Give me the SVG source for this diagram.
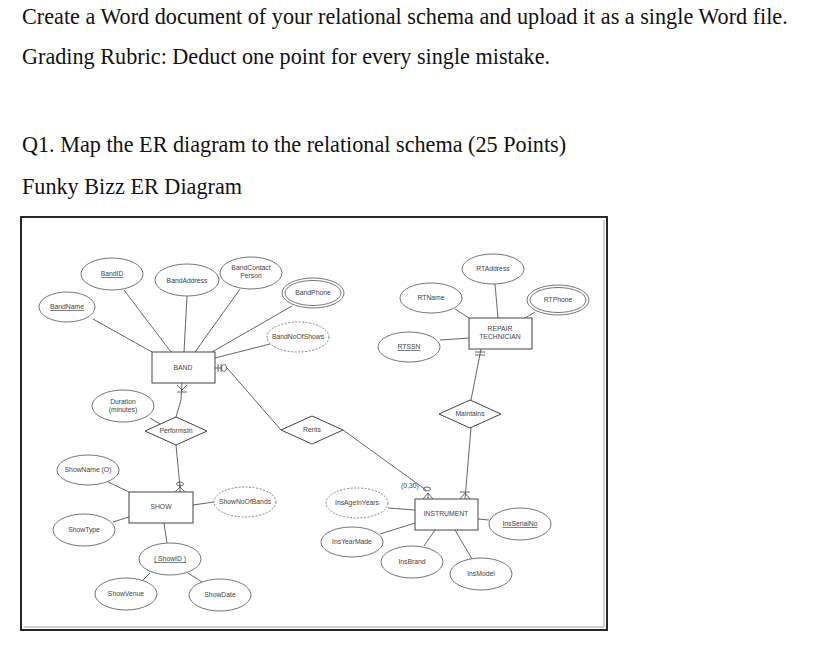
<svg xmlns="http://www.w3.org/2000/svg" width="827" height="648" viewBox="0 0 827 648">
<style>
.h{font-family:"Liberation Serif",serif;font-size:22.2px;fill:#111}
.t{font-family:"Liberation Sans",Arial,sans-serif;font-size:6.8px;fill:#444;text-anchor:middle}
.e{fill:#fff;stroke:#666;stroke-width:0.9}
.d{fill:#fff;stroke:#777;stroke-width:0.9;stroke-dasharray:2,1.5}
.r{fill:#fff;stroke:#444;stroke-width:1}
.l{stroke:#555;stroke-width:0.9;fill:none}
</style>
<rect width="827" height="648" fill="#fff"/>
<text class="h" x="22" y="24">Create a Word document of your relational schema and upload it as a single Word file.</text>
<text class="h" x="22" y="64">Grading Rubric: Deduct one point for every single mistake.</text>
<text class="h" x="22" y="152">Q1. Map the ER diagram to the relational schema (25 Points)</text>
<text class="h" x="22" y="194">Funky Bizz ER Diagram</text>
<rect x="21" y="217" width="586" height="413" fill="none" stroke="#111" stroke-width="1.8"/>
<path d="M24 627 H604 V220" fill="none" stroke="#888" stroke-width="0.8"/>
<g id="connectors" class="l">
<line x1="93" y1="319" x2="152" y2="352"/><line x1="124" y1="290" x2="171" y2="352"/><line x1="187" y1="296" x2="184" y2="352"/><line x1="240" y1="289" x2="195" y2="352"/><line x1="292" y1="306" x2="212" y2="352"/><line x1="270" y1="344" x2="215" y2="358"/>
<line x1="150" y1="418" x2="160" y2="424"/><path d="M176 417 L181 400 L182 383"/>
<path d="M215 368 H221 M227 368 L281 430"/><line x1="218" y1="364" x2="218" y2="372"/><line x1="221" y1="364" x2="221" y2="372"/><ellipse cx="224" cy="368" rx="2.5" ry="3.5"/>
<path d="M177 385 L182 390 L187 385 M177 392 H187"/>
<path d="M176 445 L180 487 M180 492 L180 484 M175 492 L180 487 L185 492"/><ellipse cx="180" cy="484" rx="3.5" ry="2"/>
<line x1="108" y1="482" x2="129" y2="492"/><line x1="113" y1="522" x2="129" y2="517"/><line x1="214" y1="502" x2="193" y2="505"/><line x1="167" y1="543" x2="164" y2="523"/><line x1="150" y1="573" x2="141" y2="582"/><line x1="188" y1="573" x2="205" y2="584"/>
<path d="M343 430 L426 490 M423 499 L428 493 L433 499 M428 493 V499"/><ellipse cx="427" cy="489" rx="3.5" ry="2"/>
<path d="M471 428 L465 499 M460 499 L465 493 L470 499 M460 492 H470"/>
<line x1="388" y1="508" x2="415" y2="510"/><line x1="380" y1="534" x2="415" y2="523"/><line x1="424" y1="546" x2="435" y2="530"/><line x1="472" y1="559" x2="455" y2="530"/><line x1="489" y1="520" x2="478" y2="519"/>
<line x1="455" y1="309" x2="469" y2="318"/><line x1="495" y1="284" x2="498" y2="318"/><line x1="535" y1="312" x2="525" y2="318"/><line x1="440" y1="340" x2="469" y2="338"/>
<path d="M481 349 L471 400 M475 352 H485 M475 355 H485"/>
</g>
<g id="band"><rect class="r" x="152" y="352" width="63" height="31"/><text class="t" x="183" y="370">BAND</text></g>
<g id="bandname"><ellipse class="e" cx="67" cy="307" rx="28" ry="15"/><text class="t" x="67" y="309" text-decoration="underline">BandName</text></g>
<g id="bandid"><ellipse class="e" cx="112" cy="274" rx="31" ry="16"/><text class="t" x="112" y="276" text-decoration="underline">BandID</text></g>
<g id="bandaddress"><ellipse class="e" cx="187" cy="280" rx="32" ry="16"/><text class="t" x="187" y="283">BandAddress</text></g>
<g id="bandcontact"><ellipse class="e" cx="251" cy="273" rx="31" ry="16"/><text class="t" x="251" y="270">BandContact</text><text class="t" x="251" y="278">Person</text></g>
<g id="bandphone"><ellipse class="e" cx="313" cy="293" rx="31" ry="15"/><ellipse class="e" cx="313" cy="293" rx="28" ry="12.5"/><text class="t" x="313" y="295">BandPhone</text></g>
<g id="bandnoofshows"><ellipse class="d" cx="298" cy="337" rx="31" ry="15"/><text class="t" x="298" y="339">BandNoOfShows</text></g>
<g id="duration"><ellipse class="e" cx="123" cy="406" rx="31" ry="16"/><text class="t" x="123" y="404">Duration</text><text class="t" x="123" y="412">(minutes)</text></g>
<g id="performsin"><polygon class="r" points="145,431 176,417 207,431 176,445"/><text class="t" x="176" y="433">PerformsIn</text></g>
<g id="rents"><polygon class="r" points="281,430 312,416 343,430 312,444"/><text class="t" x="312" y="432">Rents</text></g>
<g id="show"><rect class="r" x="129" y="492" width="64" height="31"/><text class="t" x="161" y="509">SHOW</text></g>
<g id="showname"><ellipse class="e" cx="88" cy="470" rx="31" ry="15"/><text class="t" x="88" y="472">ShowName (O)</text></g>
<g id="shownoofbands"><ellipse class="d" cx="245" cy="502" rx="31" ry="15"/><text class="t" x="245" y="504">ShowNoOfBands</text></g>
<g id="showtype"><ellipse class="e" cx="84" cy="530" rx="31" ry="16"/><text class="t" x="84" y="532">ShowType</text></g>
<g id="showid"><ellipse class="e" cx="170" cy="559" rx="31" ry="16"/><text class="t" x="170" y="561" text-decoration="underline">( ShowID )</text></g>
<g id="showvenue"><ellipse class="e" cx="126" cy="594" rx="31" ry="16"/><text class="t" x="126" y="596">ShowVenue</text></g>
<g id="showdate"><ellipse class="e" cx="220" cy="595" rx="31" ry="16"/><text class="t" x="220" y="597">ShowDate</text></g>
<g id="instrument"><rect class="r" x="415" y="499" width="63" height="31"/><text class="t" x="446" y="516">INSTRUMENT</text><text class="t" x="410" y="488">(0,30)</text></g>
<g id="insage"><ellipse class="d" cx="357" cy="503" rx="31" ry="15"/><text class="t" x="357" y="505">InsAgeInYears</text></g>
<g id="insyear"><ellipse class="e" cx="352" cy="542" rx="31" ry="15"/><text class="t" x="352" y="544">InsYearMade</text></g>
<g id="insserial"><ellipse class="e" cx="520" cy="524" rx="31" ry="16"/><text class="t" x="520" y="526" text-decoration="underline">InsSerialNo</text></g>
<g id="insbrand"><ellipse class="e" cx="412" cy="562" rx="31" ry="16"/><text class="t" x="412" y="564">InsBrand</text></g>
<g id="insmodel"><ellipse class="e" cx="481" cy="574" rx="31" ry="16"/><text class="t" x="481" y="576">InsModel</text></g>
<g id="maintains"><polygon class="r" points="439,414 470,400 501,414 470,428"/><text class="t" x="470" y="416">Maintains</text></g>
<g id="repair"><rect class="r" x="469" y="318" width="63" height="31"/><text class="t" x="500" y="331">REPAIR</text><text class="t" x="500" y="339">TECHNICIAN</text></g>
<g id="rtaddress"><ellipse class="e" cx="493" cy="269" rx="31" ry="15"/><text class="t" x="493" y="271">RTAddress</text></g>
<g id="rtname"><ellipse class="e" cx="431" cy="298" rx="31" ry="15"/><text class="t" x="431" y="300">RTName</text></g>
<g id="rtphone"><ellipse class="e" cx="558" cy="300" rx="31" ry="15"/><ellipse class="e" cx="558" cy="300" rx="28" ry="12.5"/><text class="t" x="558" y="302">RTPhone</text></g>
<g id="rtssn"><ellipse class="e" cx="409" cy="347" rx="31" ry="15"/><text class="t" x="409" y="349" text-decoration="underline">RTSSN</text></g>
</svg>
